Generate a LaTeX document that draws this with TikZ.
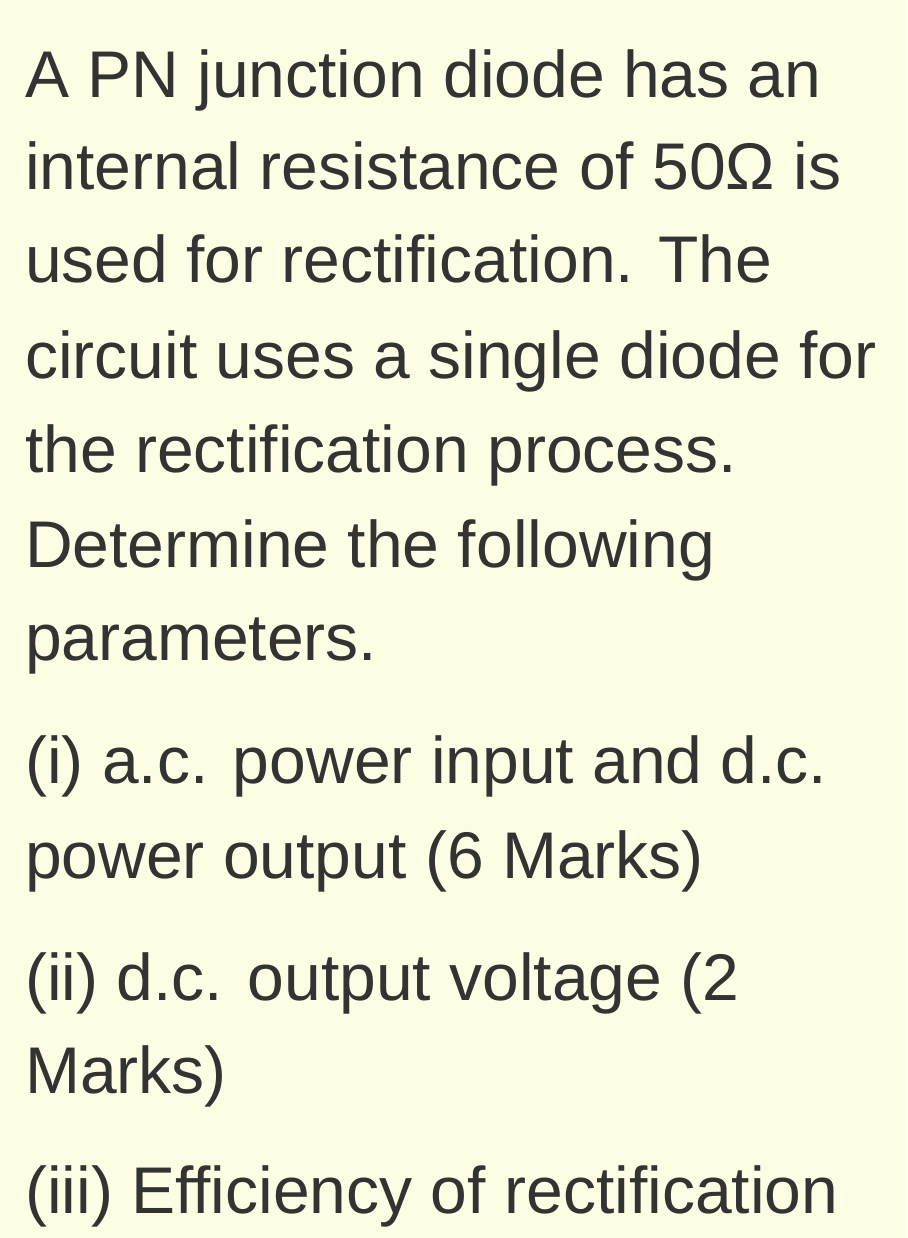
\documentclass[tikz,border=0pt]{standalone}
\usepackage{fontspec}
\setmainfont{Liberation Sans}
\definecolor{bg}{HTML}{FDFDE3}
\definecolor{ink}{HTML}{333333}
\begin{document}
\begin{tikzpicture}[x=1pt,y=-1pt,
  ln/.style={anchor=base west,inner sep=0pt,text=ink,font=\fontsize{66}{70}\selectfont}]
\fill[bg] (0,0) rectangle (907,1238);
\useasboundingbox (0,0) rectangle (907,1238);
\node[ln] (l1) at (25,98) {A PN junction diode has an};
\node[ln] (l2) at (25,190) {internal resistance of 50Ω is};
\node[ln] (l3) at (25,283) {used for rectification. The};
\node[ln] (l4) at (25,378) {circuit uses a single diode for};
\node[ln] (l5) at (25,472) {the rectification process.};
\node[ln] (l6) at (25,567) {Determine the following};
\node[ln] (l7) at (25,660) {parameters.};
\node[ln] (l8) at (25,783) {(i) a.c. power input and d.c.};
\node[ln] (l9) at (25,878) {power output (6 Marks)};
\node[ln] (l10) at (25,1000) {(ii) d.c. output voltage (2};
\node[ln] (l11) at (25,1093) {Marks)};
\node[ln] (l12) at (25,1213) {(iii) Efficiency of rectification};
\end{tikzpicture}
\end{document}
